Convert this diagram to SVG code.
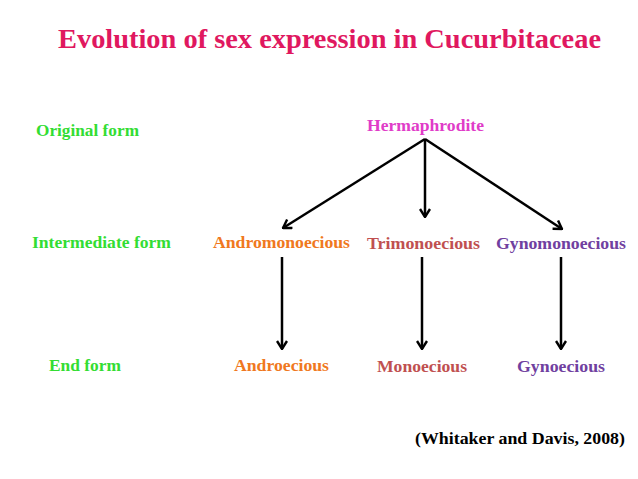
<svg xmlns="http://www.w3.org/2000/svg" width="638" height="479" viewBox="0 0 638 479" font-family="'Liberation Serif', 'Times New Roman', serif" font-weight="bold">
<defs>
<style>
.lbl{font-size:17.5px;}
.green{fill:#33dd33;}
.conn{stroke:#000;stroke-width:2.5;fill:none;}
</style>
<marker id="arr" viewBox="0 0 10 12" refX="9" refY="6" markerWidth="10" markerHeight="12" markerUnits="userSpaceOnUse" orient="auto">
<path d="M1,1 L9,6 L1,11" fill="none" stroke="#000" stroke-width="2.4"/>
</marker>
</defs>
<rect width="638" height="479" fill="#fff"/>
<text x="58" y="48" font-size="28" fill="#e0185f" textLength="543" lengthAdjust="spacingAndGlyphs">Evolution of sex expression in Cucurbitaceae</text>
<g id="row-labels">
<text class="lbl green" x="36" y="136" textLength="103" lengthAdjust="spacingAndGlyphs">Original form</text>
<text class="lbl green" x="32" y="248" textLength="139" lengthAdjust="spacingAndGlyphs">Intermediate form</text>
<text class="lbl green" x="49" y="371" textLength="72" lengthAdjust="spacingAndGlyphs">End form</text>
</g>
<g id="hermaphrodite"><text class="lbl" x="367" y="131" fill="#e03cc8" textLength="117" lengthAdjust="spacingAndGlyphs">Hermaphrodite</text></g>
<g id="andromonoecious"><text class="lbl" x="213" y="248" fill="#f07820" textLength="137" lengthAdjust="spacingAndGlyphs">Andromonoecious</text></g>
<g id="trimonoecious"><text class="lbl" x="367" y="249" fill="#c05050" textLength="113" lengthAdjust="spacingAndGlyphs">Trimonoecious</text></g>
<g id="gynomonoecious"><text class="lbl" x="496" y="249" fill="#7040a0" textLength="130" lengthAdjust="spacingAndGlyphs">Gynomonoecious</text></g>
<g id="androecious"><text class="lbl" x="234" y="371" fill="#f07820" textLength="95" lengthAdjust="spacingAndGlyphs">Androecious</text></g>
<g id="monoecious"><text class="lbl" x="377" y="372" fill="#c05050" textLength="90" lengthAdjust="spacingAndGlyphs">Monoecious</text></g>
<g id="gynoecious"><text class="lbl" x="517" y="372" fill="#7040a0" textLength="88" lengthAdjust="spacingAndGlyphs">Gynoecious</text></g>
<g id="citation"><text class="lbl" x="415" y="444" fill="#000" textLength="210" lengthAdjust="spacingAndGlyphs">(Whitaker and Davis, 2008)</text></g>
<g id="connectors">
<line class="conn" x1="425" y1="139" x2="283" y2="228" marker-end="url(#arr)"/>
<line class="conn" x1="425" y1="139" x2="425" y2="217" marker-end="url(#arr)"/>
<line class="conn" x1="425" y1="139" x2="562" y2="229" marker-end="url(#arr)"/>
<line class="conn" x1="282" y1="257" x2="282" y2="349" marker-end="url(#arr)"/>
<line class="conn" x1="422" y1="257" x2="422" y2="349" marker-end="url(#arr)"/>
<line class="conn" x1="561" y1="257" x2="561" y2="349" marker-end="url(#arr)"/>
</g>
</svg>
